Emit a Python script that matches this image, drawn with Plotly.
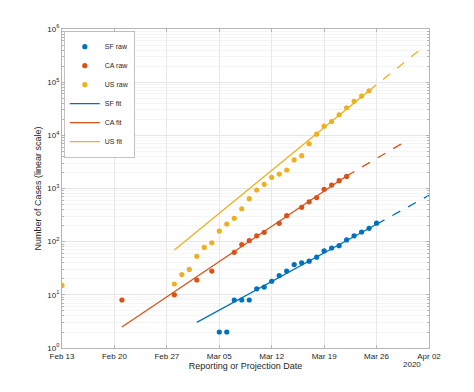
import plotly.graph_objects as go

# ---- data ----
sf_dates = ["2020-03-05", "2020-03-06", "2020-03-07", "2020-03-08", "2020-03-09", "2020-03-10",
            "2020-03-11", "2020-03-12", "2020-03-13", "2020-03-14", "2020-03-15", "2020-03-16",
            "2020-03-17", "2020-03-18", "2020-03-19", "2020-03-20", "2020-03-21", "2020-03-22",
            "2020-03-23", "2020-03-24", "2020-03-25", "2020-03-26"]
sf_raw = [2, 2, 8, 8, 8, 13, 14, 18, 23, 28, 37, 40, 43, 51, 67, 76, 84, 108, 129, 152, 178, 223]

ca_dates = ["2020-02-21", "2020-02-28", "2020-03-02", "2020-03-04", "2020-03-07", "2020-03-08",
            "2020-03-09", "2020-03-10", "2020-03-11", "2020-03-13", "2020-03-14", "2020-03-16",
            "2020-03-17", "2020-03-18", "2020-03-19", "2020-03-20", "2020-03-21", "2020-03-22"]
ca_raw = [8, 10, 19, 28, 63, 88, 105, 129, 150, 221, 308, 443, 562, 674, 966, 1160, 1405, 1690]

us_dates = ["2020-02-13", "2020-02-28", "2020-02-29", "2020-03-01", "2020-03-02", "2020-03-03",
            "2020-03-04", "2020-03-05", "2020-03-06", "2020-03-07", "2020-03-08", "2020-03-09",
            "2020-03-10", "2020-03-11", "2020-03-12", "2020-03-13", "2020-03-14", "2020-03-15",
            "2020-03-16", "2020-03-17", "2020-03-18", "2020-03-19", "2020-03-20", "2020-03-21",
            "2020-03-22", "2020-03-23", "2020-03-24", "2020-03-25"]
us_raw = [15, 16, 24, 30, 53, 78, 95, 158, 215, 275, 416, 644, 938, 1200, 1620, 1870, 2230,
          3440, 4140, 6950, 10500, 14900, 18200, 24400, 33000, 43600, 54800, 69000]

# fit lines: [start, end of fit, end of projection]
sf_fit_dates = ["2020-03-02", "2020-03-26", "2020-04-02"]
sf_fit_vals = [3.04, 213, 743]
ca_fit_dates = ["2020-02-21", "2020-03-22", "2020-03-30"]
ca_fit_vals = [2.48, 1718, 7900]
us_fit_dates = ["2020-02-28", "2020-03-25", "2020-04-01"]
us_fit_vals = [70, 69000, 430000]

x_tick_vals = ["2020-02-13", "2020-02-20", "2020-02-27", "2020-03-05", "2020-03-12",
               "2020-03-19", "2020-03-26", "2020-04-02"]
x_tick_text = ["Feb 13", "Feb 20", "Feb 27", "Mar 05", "Mar 12", "Mar 19", "Mar 26", "Apr 02"]
y_tick_vals = [1, 10, 100, 1000, 10000, 100000, 1000000]
y_tick_text = ["10<sup>0</sup>", "10<sup>1</sup>", "10<sup>2</sup>", "10<sup>3</sup>",
               "10<sup>4</sup>", "10<sup>5</sup>", "10<sup>6</sup>"]

C_SF, C_CA, C_US = "#0072BD", "#D95319", "#EDB120"
FONT = "Liberation Sans, Arial, Helvetica, sans-serif"

fig = go.Figure()
for name, d, v, c in [("SF raw", sf_dates, sf_raw, C_SF),
                      ("CA raw", ca_dates, ca_raw, C_CA),
                      ("US raw", us_dates, us_raw, C_US)]:
    fig.add_trace(go.Scatter(x=d, y=v, mode="markers", name=name,
                             marker=dict(color=c, size=5.2, line=dict(width=0))))
for name, d, v, c in [("SF fit", sf_fit_dates, sf_fit_vals, C_SF),
                      ("CA fit", ca_fit_dates, ca_fit_vals, C_CA),
                      ("US fit", us_fit_dates, us_fit_vals, C_US)]:
    fig.add_trace(go.Scatter(x=d[:2], y=v[:2], mode="lines", name=name,
                             line=dict(color=c, width=1.3)))
    fig.add_trace(go.Scatter(x=d[1:], y=v[1:], mode="lines", showlegend=False,
                             line=dict(color=c, width=1.3, dash="dash")))

fig.update_layout(
    width=474, height=392,
    margin=dict(l=62, r=45, t=29, b=44, autoexpand=False),
    paper_bgcolor="white", plot_bgcolor="white",
    font=dict(family=FONT, size=8, color="#262626"),
    showlegend=True,
    legend=dict(x=0.006, y=0.992, xanchor="left", yanchor="top",
                bgcolor="white", bordercolor="#9a9a9a", borderwidth=0.6,
                font=dict(size=7, color="#262626"), tracegroupgap=0,
                itemwidth=30),
    xaxis=dict(type="date", range=["2020-02-13", "2020-04-02"], automargin=False,
               tickmode="array", tickvals=x_tick_vals, ticktext=x_tick_text,
               showgrid=True, gridcolor="#e8e8e8", gridwidth=0.6,
               showline=True, linecolor="#b5b5b5", linewidth=1.2, mirror="ticks",
               ticks="inside", ticklen=3, tickcolor="#b5b5b5",
               tickfont=dict(size=8, color="#262626"), zeroline=False,
               title=dict(text="Reporting or Projection Date", font=dict(size=9), standoff=0)),
    yaxis=dict(type="log", range=[0, 6], automargin=False,
               tickmode="array", tickvals=y_tick_vals, ticktext=y_tick_text,
               showgrid=True, gridcolor="#e6e6e6", gridwidth=0.6,
               minor=dict(showgrid=True, gridcolor="#f5f5f5", gridwidth=0.5,
                          dtick="D1", ticks="inside", ticklen=2, tickcolor="#b5b5b5"),
               showline=True, linecolor="#b5b5b5", linewidth=1.2, mirror="ticks",
               ticks="inside", ticklen=3, tickcolor="#b5b5b5",
               tickfont=dict(size=8, color="#262626"), zeroline=False,
               title=dict(text="Number of Cases (linear scale)", font=dict(size=9), standoff=4)),
)
fig.add_annotation(text="2020", x=1.0, y=0, xref="paper", yref="paper",
                   xanchor="right", yanchor="top", yshift=-10, xshift=-6,
                   showarrow=False, font=dict(size=8, color="#262626"))

fig.write_html("out.html", config={"displayModeBar": False},
               post_script="document.body.style.margin='0';document.body.style.padding='0';")
